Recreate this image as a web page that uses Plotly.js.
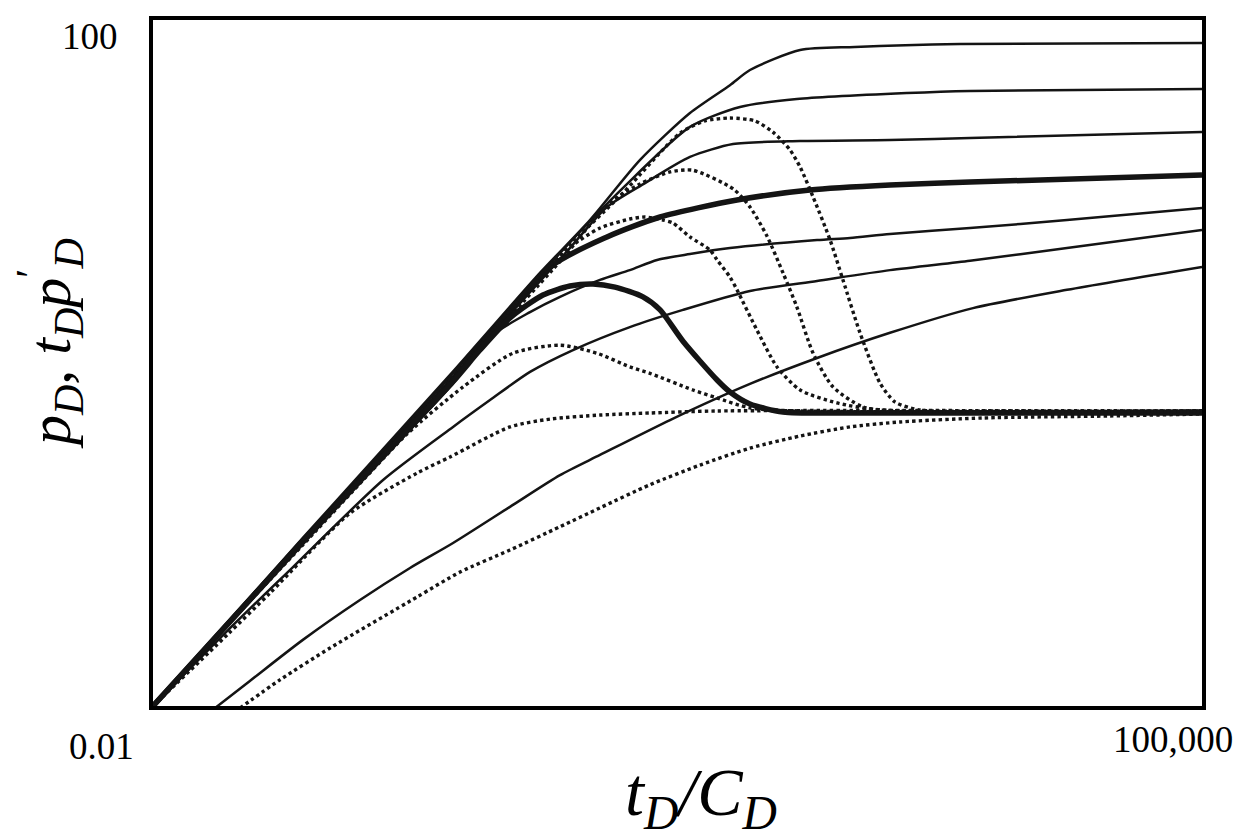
<!DOCTYPE html>
<html>
<head>
<meta charset="utf-8">
<script src="https://cdn.plot.ly/plotly-3.0.1.min.js"></script>
<style>
html,body{margin:0;padding:0;background:#fff;}
#chart{width:1248px;height:840px;}
</style>
</head>
<body>
<div id="chart"></div>
<script>
// ---- data (t_D/C_D, value) ----
// solid curves: p_D ; dotted curves: t_D p'_D
const s1X=[0.01,0.1,1.0,3.82,8.24,17.8,38.3,70.8,96.3,208,483,2427,100000];
const s1Y=[0.01,0.0955,0.887,3.35,6.82,15.3,28.7,41.7,51.1,66.8,69.6,72.4,73.4];

const s2X=[0.01,0.1,1.0,5.44,13.7,38.3,82.6,198,1075,2831,100000];
const s2Y=[0.01,0.0942,0.863,4.56,10.5,23.8,31.1,34.6,37.5,38.6,39.6];

const d2X=[0.01,0.1,1.0,5.44,13.7,32.9,48.2,70.8,104,137,178,208,254,330,402,522,710,893,1312,4487,100000];
const d2Y=[0.01,0.0929,0.840,4.44,9.8,21.9,25.8,26.8,25.8,22.2,17.5,13.9,9.29,5.21,3.05,1.50,0.764,0.593,0.532,0.525,0.525];

const s3X=[0.01,0.1,1.0,5.44,10.7,19.2,38.3,74.2,208,828,2831,100000];
const s3Y=[0.01,0.0929,0.828,4.21,8.12,11.2,15.9,18.9,19.7,19.95,20.5,22.2];

const d3X=[0.01,0.1,1.0,5.44,10.7,17.8,28.2,40.1,75,96.3,125,160,198,254,345,547,966,100000];
const d3Y=[0.01,0.0917,0.818,4.09,8.34,11.07,13.0,13.3,10.3,8.12,5.5,3.35,2.12,1.14,0.725,0.554,0.525,0.525];

const s4X=[0.01,0.1,1.0,4.46,10.7,24.2,78.9,242,828,2831,100000];
const s4Y=[0.01,0.0917,0.796,3.63,5.43,7.10,8.92,10.2,10.9,11.35,12.5];

const d4X=[0.01,0.1,1.0,3.82,6.06,9.61,15.2,19.2,25.3,29.5,38.3,52.1,58.1,70.8,78.9,107,146,208,367,710,100000];
const d4Y=[0.01,0.0917,0.807,3.26,4.74,6.12,6.91,7.10,6.82,6.55,5.43,4.56,3.99,3.17,2.67,1.56,0.948,0.696,0.585,0.532,0.525];

const s5X=[0.01,0.1,1.0,1.774,3.28,5.20,9.61,15.2,23.1,38.3,70.8,270,448,828,2831,12560,100000];
const s5Y=[0.01,0.0904,0.755,1.42,1.98,2.43,3.05,3.48,3.99,4.32,4.68,5.21,5.36,5.65,6.12,6.82,8.01];

const d5X=[0.01,0.1,1.0,1.52,2.41,4.0,6.06,8.63,12.1,18.6,24.2,34.4,58.1,70.8,96.3,160,448,100000];
const d5Y=[0.01,0.0904,0.775,1.19,1.83,2.49,2.81,2.89,2.77,2.43,2.04,1.34,0.796,0.678,0.577,0.518,0.511,0.511];

const d6X=[0.01,0.0317,0.1,0.2065,0.495,1.172,2.52,5.20,9.18,15.2,20.7,40.1,58.1,96.3,208,100000];
const d6Y=[0.01,0.030,0.087,0.172,0.385,0.725,1.14,1.27,1.14,0.95,0.87,0.696,0.625,0.547,0.525,0.525];

const s6X=[0.01,0.0317,0.0859,0.343,1.005,1.774,3.28,6.35,15.2,34.4,96.3,270,828,2831,12560,100000];
const s6Y=[0.01,0.0277,0.0646,0.208,0.424,0.608,0.887,1.19,1.62,2.04,2.63,3.01,3.48,3.95,4.68,5.97];

const d7X=[0.01,0.0317,0.0604,0.2065,0.578,0.959,2.41,4.46,9.61,20.7,58.1,100000];
const d7Y=[0.01,0.0263,0.0456,0.133,0.228,0.283,0.424,0.471,0.497,0.511,0.525,0.525];

const s8X=[0.024,0.0443,0.1,0.2405,0.519,1.005,2.41,5.20,9.61,28.2,96.3,270,828,2965,12560,100000];
const s8Y=[0.00923,0.0140,0.0243,0.0415,0.0638,0.0892,0.145,0.222,0.291,0.465,0.755,1.07,1.50,2.09,2.67,3.63];

const d8X=[0.0381,0.0703,0.152,0.578,1.119,2.41,5.20,9.61,20.7,44.7,96.3,208,448,966,3459,24320,100000];
const d8Y=[0.00973,0.0142,0.0218,0.0432,0.0604,0.0812,0.111,0.143,0.195,0.254,0.319,0.375,0.424,0.453,0.478,0.491,0.504];

const xTickLabels=['0.01','100,000'];
const yTickLabels=['100'];
const xTitle='<i>t</i><sub><i>D</i></sub><i>/C</i><sub><i>D</i></sub>';
const yTitle='<i>p</i><sub><i>D</i></sub>, <i>t</i><sub><i>D</i></sub><i>p</i><sup>′</sup><sub><i>D</i></sub>';

// ---- styles ----
const INK='#141414';
const thin={color:INK,width:2.5,shape:'spline',smoothing:0.7};
const thick={color:INK,width:5.5,shape:'spline',smoothing:0.7};
const dotted={color:INK,width:3.4,dash:'3.4px,3.2px',shape:'spline',smoothing:0.7};

const series=[
  [s1X,s1Y,thin],[s2X,s2Y,thin],[s3X,s3Y,thin],[s4X,s4Y,thick],
  [s5X,s5Y,thin],[s6X,s6Y,thin],[s8X,s8Y,thin],
  [d2X,d2Y,dotted],[d3X,d3Y,dotted],[d4X,d4Y,dotted],[d5X,d5Y,thick],
  [d6X,d6Y,dotted],[d7X,d7Y,dotted],[d8X,d8Y,dotted]
];

const traces=series.map(s=>({x:s[0],y:s[1],type:'scatter',mode:'lines',line:s[2],hoverinfo:'skip',showlegend:false}));

const FONT='Liberation Serif, Times New Roman, serif';
const W=1248,H=840,ML=153,MR=46,MT=20,MB=134;
const PW=W-ML-MR, PH=H-MT-MB;
function px(x){return (x-ML)/PW;}
function py(y){return (H-MB-y)/PH;}

const annotations=[
  {text:yTickLabels[0],x:px(90),y:py(36)},
  {text:xTickLabels[0],x:px(101),y:py(746)},
  {text:xTickLabels[1],x:px(1173),y:py(740)}
].map(a=>Object.assign(a,{xref:'paper',yref:'paper',showarrow:false,xanchor:'center',yanchor:'middle',font:{family:FONT,size:37,color:'#000'}}));

annotations.push({text:xTitle,xref:'paper',yref:'paper',x:px(701),y:py(796),xanchor:'center',yanchor:'middle',showarrow:false,font:{family:FONT,size:68,color:'#000'}});
annotations.push({text:yTitle,xref:'paper',yref:'paper',x:px(50),y:py(343),xanchor:'center',yanchor:'middle',textangle:-90,showarrow:false,font:{family:FONT,size:60,color:'#000'}});

const axisBase={type:'log',showgrid:false,zeroline:false,showline:true,mirror:true,linewidth:4,linecolor:'#000',ticks:'',showticklabels:false,fixedrange:true};

const layout={
  width:W,height:H,
  margin:{l:ML,r:MR,t:MT,b:MB,pad:0},
  paper_bgcolor:'#fff',plot_bgcolor:'#fff',
  xaxis:Object.assign({},axisBase,{range:[-2,5]}),
  yaxis:Object.assign({},axisBase,{range:[-2,2]}),
  annotations:annotations,
  showlegend:false
};

Plotly.newPlot('chart',traces,layout,{staticPlot:true,displayModeBar:false});
</script>
</body>
</html>
